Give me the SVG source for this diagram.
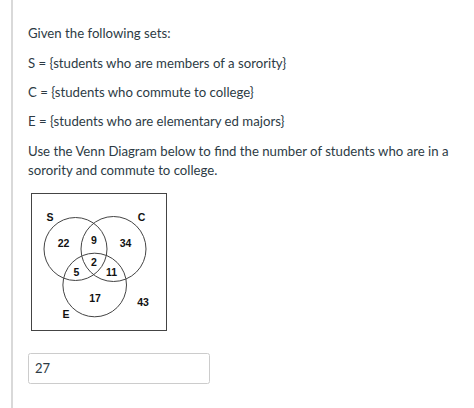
<svg xmlns="http://www.w3.org/2000/svg" width="474" height="408" viewBox="0 0 474 408">
<style>
.t{font-family:Lato,"Liberation Sans",sans-serif;font-size:13.2px;fill:#2d3b45}
.v{font-family:"Liberation Sans",Arial,sans-serif;font-size:10.5px;font-weight:bold;fill:#111;text-anchor:middle;dominant-baseline:central}
.c{fill:none;stroke:#444;stroke-width:1}
</style>
<rect width="474" height="408" fill="#fff"/>
<rect x="11" y="0" width="2" height="408" fill="#d9d9d9"/>
<g id="text">
<text class="t" x="28" y="38">Given the following sets:</text>
<text class="t" x="28" y="68">S = {students who are members of a sorority}</text>
<text class="t" x="28" y="97">C = {students who commute to college}</text>
<text class="t" x="28" y="126">E = {students who are elementary ed majors}</text>
<text class="t" x="28" y="156">Use the Venn Diagram below to find the number of students who are in a</text>
<text class="t" x="28" y="175">sorority and commute to college.</text>
</g>
<g id="venn">
<rect x="31.5" y="193.5" width="135" height="137" fill="#fff" stroke="#444" stroke-width="1"/>
<circle id="S" class="c" cx="75.5" cy="249" r="31.5"/>
<circle id="C" class="c" cx="113.5" cy="249" r="32.5"/>
<circle id="E" class="c" cx="94.7" cy="285" r="31.8"/>
<text class="v" x="50" y="217">S</text>
<text class="v" x="141.5" y="217">C</text>
<text class="v" x="66" y="314">E</text>
<text class="v" x="63.5" y="243">22</text>
<text class="v" x="94" y="240">9</text>
<text class="v" x="125.5" y="243">34</text>
<text class="v" x="94" y="262">2</text>
<text class="v" x="76.5" y="272">5</text>
<text class="v" x="111.5" y="272">11</text>
<text class="v" x="95" y="297.5">17</text>
<text class="v" x="143" y="301.5">43</text>
</g>
<g id="answer">
<rect x="28.5" y="353.5" width="181" height="30" rx="2" fill="#fff" stroke="#ccc" stroke-width="1"/>
<text class="t" x="35" y="373" style="font-size:13px">27</text>
</g>
</svg>
